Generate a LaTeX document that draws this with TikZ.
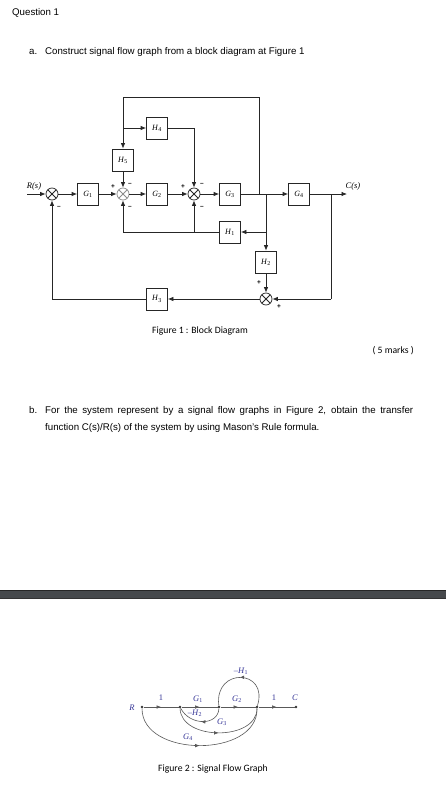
\documentclass[tikz,border=0pt]{standalone}
\usepackage{fontspec}
\setmainfont{Liberation Sans}
\newfontfamily\calib{Carlito}
\newfontfamily\tms{Liberation Serif}
\usetikzlibrary{arrows.meta,decorations.markings}
\definecolor{sfgblue}{RGB}{52,52,150}
\definecolor{barcol}{RGB}{70,73,76}
\newcommand{\vsub}[2]{\textit{#1}\textsubscript{#2}}
\begin{document}
\begin{tikzpicture}[x=1pt,y=-1pt,
  txt/.style={inner sep=0pt, font=\fontsize{9.7}{11}\selectfont},
  captxt/.style={inner sep=0pt, font=\calib\fontsize{9.7}{11}\selectfont},
  wire/.style={draw=black!85, line width=0.75pt},
  arr/.style={wire, -{Latex[length=5.5pt,width=4.5pt]}},
  blk/.style={draw=black!85, line width=0.75pt, minimum width=21pt, minimum height=22pt, inner sep=0pt, font=\tms\fontsize{8}{8}\selectfont},
  sumj/.style={circle, draw=black!85, line width=0.75pt, minimum size=12pt, inner sep=0pt,
     path picture={\draw[line width=0.75pt] (path picture bounding box.north west) -- (path picture bounding box.south east)
       (path picture bounding box.north east) -- (path picture bounding box.south west);}},
  sgn/.style={inner sep=0pt, font=\fontsize{6.5}{6.5}\bfseries\selectfont},
  sfgn/.style={circle, fill=black!80, inner sep=0pt, minimum size=2.6pt},
  sfg/.style={draw=black!65, line width=0.6pt},
  midarr/.style={decoration={markings, mark=at position 0.5 with {\arrow[black!65]{Latex[length=4.5pt,width=3.6pt]}}}, postaction={decorate}},
  lbl/.style={inner sep=0pt, text=sfgblue, font=\tms\fontsize{8.5}{9}\selectfont},
]
\useasboundingbox (0,0) rectangle (446,792);

% ---------- text ----------
\node[txt, anchor=base west] (q1) at (12,16) {Question 1};
\node[txt, anchor=base west] (pa) at (29,55) {a.};
\node[txt, anchor=base west] (ta) at (45,55) {Construct signal flow graph from a block diagram at Figure 1};

% ---------- block diagram ----------
\node[sumj] (s1) at (52,194) {};
\node[blk] (G1) at (88,194) {\vsub{G}{1}};
\node[sumj, draw=black!45] (s2) at (123,194) {};
\node[blk] (G2) at (157,194) {\vsub{G}{2}};
\node[sumj] (s3) at (194,194) {};
\node[blk] (G3) at (230,194) {\vsub{G}{3}};
\node[blk] (G4) at (299,194) {\vsub{G}{4}};
\node[blk] (H4) at (157,128) {\vsub{H}{4}};
\node[blk] (H5) at (123,160) {\vsub{H}{5}};
\node[blk] (H1) at (230,232) {\vsub{H}{1}};
\node[blk] (H2) at (266,262) {\vsub{H}{2}};
\node[sumj] (s4) at (266,299) {};
\node[blk] (H3) at (157,299) {\vsub{H}{3}};

\coordinate (rin) at (27,194);
\coordinate (cout) at (347,194);
\coordinate (j1) at (259,194);
\coordinate (j2) at (266,194);
\coordinate (j3) at (331,194);
\coordinate (topR) at (259,97);
\coordinate (topL) at (123,97);
\coordinate (h4in) at (123,128);
\coordinate (h4c) at (194,128);
\coordinate (h1r) at (266,232);
\coordinate (h1l) at (123,232);
\coordinate (h1m) at (194,232);
\coordinate (bl) at (52,299);
\coordinate (br) at (331,299);

\node[inner sep=0pt, font=\tms\itshape\fontsize{8.5}{9}\selectfont] (Rs) at (34,186) {R(s)};
\node[inner sep=0pt, font=\tms\itshape\fontsize{8.5}{9}\selectfont] (Cs) at (353,186) {C(s)};

\draw[arr] (rin) -- (s1);
\draw[arr] (s1) -- (G1);
\draw[arr] (G1) -- (s2);
\draw[arr] (s2) -- (G2);
\draw[arr] (G2) -- (s3);
\draw[arr] (s3) -- (G3);
\draw[wire] (G3) -- (j2);
\draw[arr] (j2) -- (G4);
\draw[arr] (G4) -- (cout);
\draw[wire] (j1) -- (topR) -- (topL) -- (h4in);
\draw[arr] (h4in) -- (H5);
\draw[arr] (h4in) -- (H4);
\draw[arr] (H5) -- (s2);
\draw[wire] (H4) -- (h4c);
\draw[arr] (h4c) -- (s3);
\draw[wire] (j2) -- (h1r);
\draw[arr] (h1r) -- (H1);
\draw[arr] (h1r) -- (H2);
\draw[wire] (H1) -- (h1l);
\draw[arr] (h1l) -- (s2);
\draw[arr] (h1m) -- (s3);
\draw[arr] (H2) -- (s4);
\draw[wire] (j3) -- (br);
\draw[arr] (br) -- (s4);
\draw[arr] (s4) -- (H3);
\draw[wire] (H3) -- (bl);
\draw[arr] (bl) -- (s1);

\node[sgn] (m1) at (59,207) {--};
\node[sgn] (p2) at (113,187) {+};
\node[sgn] (m2a) at (130,184) {--};
\node[sgn] (m2b) at (130,207) {--};
\node[sgn] (p3) at (183,187) {+};
\node[sgn] (m3a) at (202,184) {--};
\node[sgn] (m3b) at (202,207) {--};
\node[sgn] (p4a) at (259,283) {+};
\node[sgn] (p4b) at (279,307) {+};

\node[captxt, anchor=base] (cap1) at (200,333) {Figure 1 : Block Diagram};
\node[captxt, anchor=base east] (marks) at (414,353) {( 5 marks )};

% ---------- part b ----------
\node[txt, anchor=base west] (pb) at (29,413) {b.};
\node[inner sep=0pt, anchor=base west, text width=368pt, align=justify, font=\fontsize{9.7}{17}\selectfont] (tb) at (45,413)
 {For the system represent by a signal flow graphs in Figure 2, obtain the transfer\linebreak function C(s)/R(s) of the system by using Mason’s Rule formula.};

% ---------- separator bar ----------
\fill[barcol] (0,590) rectangle (446,599);
\fill[black!85] (0,590) rectangle (446,591.2);
\fill[black!80] (0,597.8) rectangle (446,599);

% ---------- signal flow graph ----------
\node[sfgn] (R) at (142,707) {};
\node[sfgn] (n2) at (180,707) {};
\node[sfgn] (n3) at (219,707) {};
\node[sfgn] (n4) at (257,707) {};
\node[sfgn] (C) at (296,707) {};

\draw[sfg, midarr] (R) -- (n2);
\draw[sfg, midarr] (n2) -- (n3);
\draw[sfg, midarr] (n3) -- (n4);
\draw[sfg, midarr] (n4) -- (C);
\draw[sfg, midarr] (n4) .. controls (269,669) and (214,667) .. (n3);
\draw[sfg, midarr] (n3) .. controls (218,726) and (190,726) .. (n2);
\draw[sfg, midarr] (n2) .. controls (181,741) and (257,741) .. (n4);
\draw[sfg, midarr] (R) .. controls (142,758) and (258,758) .. (n4);

\node[lbl] (lR) at (132,708) {\textit{R}};
\node[lbl] (l1a) at (161,698) {1};
\node[lbl] (lG1) at (198,699) {\vsub{G}{1}};
\node[lbl] (lG2) at (237,699) {\vsub{G}{2}};
\node[lbl] (l1b) at (274,698) {1};
\node[lbl] (lC) at (295,698) {\textit{C}};
\node[lbl] (lH1) at (241,671) {–\vsub{H}{1}};
\node[lbl] (lH2) at (195,713) {–\vsub{H}{2}};
\node[lbl] (lG3) at (222,722) {\vsub{G}{3}};
\node[lbl] (lG4) at (188,737) {\vsub{G}{4}};

\node[captxt, anchor=base] (cap2) at (213,771) {Figure 2 : Signal Flow Graph};
\end{tikzpicture}
\end{document}
